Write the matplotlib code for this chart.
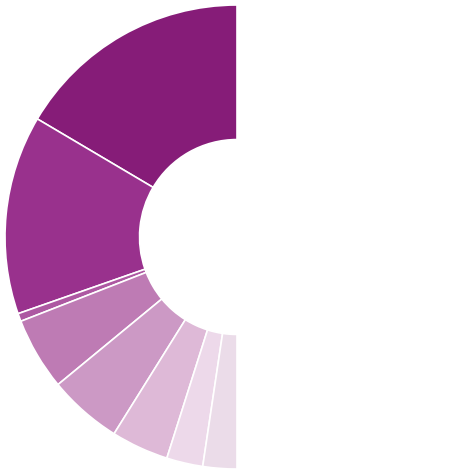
import matplotlib
matplotlib.use('Agg')
import matplotlib.pyplot as plt

# slice sizes (degrees of the half ring), top going counterclockwise
values = [59.4, 49.9, 2.0, 18.2, 18.5, 14.4, 9.1, 8.5]
colors = ['#861C78', '#99318D', '#AD58A2', '#BE7BB4', '#CC99C5',
          '#DEB9D7', '#EDD9EA', '#EBDCE9']

fig = plt.figure(figsize=(4.74, 4.74), dpi=100)
ax = fig.add_axes([0, 0, 1, 1])

# the right half is a hidden filler slice
wedges, _ = ax.pie(values + [sum(values)], colors=colors + ['white'],
                   startangle=90, counterclock=True, radius=1,
                   wedgeprops=dict(width=0.58, edgecolor='white', linewidth=1.2))
wedges[-1].set_visible(False)

lim = 237 / 232
ax.set_xlim(-lim, lim)
ax.set_ylim(-lim, lim)
ax.set_aspect('equal')
ax.axis('off')

fig.savefig('out.png', dpi=100)
